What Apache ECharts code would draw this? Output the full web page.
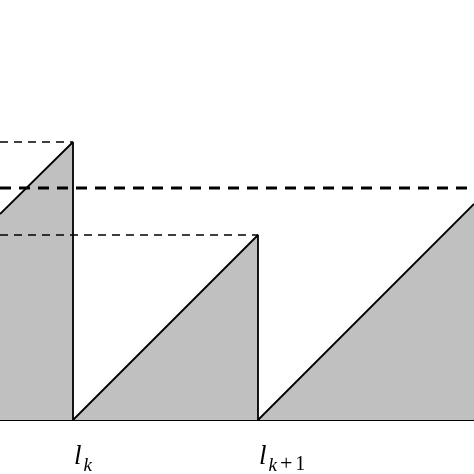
<!DOCTYPE html>
<html><head><meta charset="utf-8">
<script src="https://cdn.jsdelivr.net/npm/echarts@6/dist/echarts.min.js"></script>
<style>html,body{margin:0;padding:0;background:#fff}#c{width:474px;height:474px}</style>
</head><body><div id="c"></div>
<script>
// sawtooth (queue / workload) profile
const sawX = [0, 73, 73, 258, 258, 474];
const sawY = [206, 278, 0, 185, 0, 216];
// reference levels
const peakLevels = [278, 185];
const peakEnds = [73, 258];
const meanLevel = 232;
// tick positions & labels
const tickValues = [73, 258];
const tickLabels = ['{l|l}{k|k}', '{l|l}{k|k}{p|+}{o|1}'];

const chart = echarts.init(document.getElementById('c'), null, {renderer: 'canvas'});
const series = [
  {
    type: 'line', data: sawX.map((x, i) => [x, sawY[i]]), symbol: 'none',
    lineStyle: {color: '#000', width: 1.8}, areaStyle: {color: '#c0c0c0', opacity: 1},
    z: 2
  },
  {
    type: 'line', data: [[0, meanLevel], [474, meanLevel]], symbol: 'none',
    lineStyle: {color: '#000', width: 3, type: [11, 8]}, z: 3
  }
];
peakLevels.forEach((v, i) => {
  series.push({
    type: 'line', data: [[0, v], [peakEnds[i], v]], symbol: 'none',
    lineStyle: {color: '#000', width: 1.3, type: [8, 6]}, z: 3
  });
});
chart.setOption({
  animation: false,
  grid: {left: 0, right: 0, top: 0, bottom: 54, outerBoundsMode: 'none', containLabel: false},
  xAxis: {
    type: 'value', min: 0, max: 474,
    axisLine: {show: true, lineStyle: {color: '#000', width: 2}},
    axisTick: {show: false}, splitLine: {show: false},
    axisLabel: {
      customValues: tickValues, align: 'left', margin: 23,
      formatter: (v) => tickLabels[tickValues.indexOf(v)] || '',
      rich: {
        l: {fontFamily: 'Liberation Serif', fontStyle: 'italic', fontSize: 27, color: '#000', verticalAlign: 'bottom', padding: [0, 0, 5, 1]},
        k: {fontFamily: 'Liberation Serif', fontStyle: 'italic', fontSize: 19, color: '#000', verticalAlign: 'bottom', padding: [0, 0, 0, 2]},
        p: {fontFamily: 'Liberation Serif', fontSize: 22, color: '#000', verticalAlign: 'bottom', padding: [0, 3, 0, 3]},
        o: {fontFamily: 'Liberation Serif', fontSize: 20, color: '#000', verticalAlign: 'bottom'}
      }
    }
  },
  yAxis: {
    type: 'value', min: 0, max: 420, show: false
  },
  series: series
});
</script></body></html>
